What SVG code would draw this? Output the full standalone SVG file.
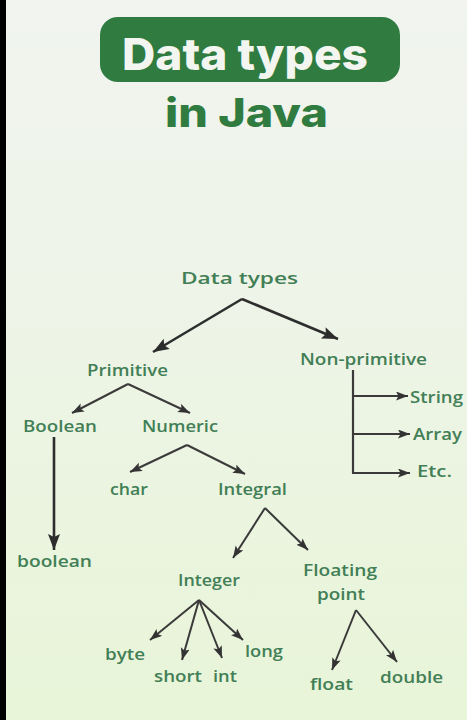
<svg xmlns="http://www.w3.org/2000/svg" width="467" height="720" viewBox="0 0 467 720">
<defs>
<linearGradient id="bg" x1="0" y1="0" x2="0" y2="1">
<stop offset="0" stop-color="#f1f4ef"/>
<stop offset="0.4" stop-color="#eef4e8"/>
<stop offset="1" stop-color="#e8f5d8"/>
</linearGradient>
<marker id="big" markerUnits="userSpaceOnUse" markerWidth="18" markerHeight="14" refX="16" refY="6" orient="auto">
<path d="M0,0 L16,6 L0,12 L3,6 z" fill="#2c2c2c"/>
</marker>
<marker id="sm" markerUnits="userSpaceOnUse" markerWidth="14" markerHeight="10" refX="12" refY="4.5" orient="auto">
<path d="M0,0 L12,4.5 L0,9 L2.5,4.5 z" fill="#333"/>
</marker>
<style>
.t{font-family:"Open Sans","Noto Sans","Liberation Sans",sans-serif;font-weight:600;fill:#427f56;font-size:17px}
.a{stroke:#3a3a3a;stroke-width:2;fill:none;marker-end:url(#sm)}
.b{stroke:#2e2e2e;stroke-width:2.6;fill:none;marker-end:url(#big)}
.l{stroke:#3a3a3a;stroke-width:2.2;fill:none}
</style>
</defs>
<rect width="467" height="720" fill="url(#bg)"/>
<rect x="0" y="0" width="6" height="720" fill="#000"/>

<g id="title">
<rect x="100" y="17" width="300" height="65" rx="18" fill="#2f7b40"/>
<text x="122" y="70" font-family="Inter,'Open Sans',sans-serif" font-weight="800" font-size="44" fill="#f3f6f0" textLength="246" lengthAdjust="spacingAndGlyphs">Data types</text>
<text x="165" y="127" font-family="Inter,'Open Sans',sans-serif" font-weight="800" font-size="40" fill="#2f7b40" textLength="163" lengthAdjust="spacingAndGlyphs">in Java</text>
</g>

<g id="connectors">
<line class="b" x1="242" y1="299" x2="153" y2="352"/>
<line class="b" x1="242" y1="299" x2="338" y2="339"/>
<line class="a" x1="128" y1="384" x2="72" y2="413"/>
<line class="a" x1="128" y1="384" x2="190" y2="413"/>
<line class="b" x1="54" y1="437" x2="54" y2="550"/>
<line class="a" x1="187" y1="445" x2="130" y2="472"/>
<line class="a" x1="187" y1="445" x2="245" y2="474"/>
<path class="l" d="M353,370 V473"/>
<line class="a" x1="353" y1="396" x2="408" y2="396"/>
<line class="a" x1="353" y1="434" x2="410" y2="434"/>
<line class="a" x1="352" y1="473" x2="410" y2="473"/>
<line class="a" x1="265" y1="508" x2="233" y2="558"/>
<line class="a" x1="265" y1="508" x2="308" y2="550"/>
<line class="a" x1="199" y1="600" x2="150" y2="640"/>
<line class="a" x1="199" y1="600" x2="182" y2="660"/>
<line class="a" x1="199" y1="600" x2="222" y2="658"/>
<line class="a" x1="199" y1="600" x2="243" y2="640"/>
<line class="a" x1="356" y1="610" x2="332" y2="670"/>
<line class="a" x1="356" y1="610" x2="397" y2="662"/>
</g>

<g id="n-datatypes"><text class="t" x="181" y="284" font-size="18" textLength="117" lengthAdjust="spacingAndGlyphs">Data types</text></g>
<g id="n-primitive"><text class="t" x="87" y="376" textLength="81" lengthAdjust="spacingAndGlyphs">Primitive</text></g>
<g id="n-nonprimitive"><text class="t" x="300" y="365" textLength="127" lengthAdjust="spacingAndGlyphs">Non-primitive</text></g>
<g id="n-Boolean"><text class="t" x="23" y="432" textLength="74" lengthAdjust="spacingAndGlyphs">Boolean</text></g>
<g id="n-numeric"><text class="t" x="142" y="432" textLength="76" lengthAdjust="spacingAndGlyphs">Numeric</text></g>
<g id="n-char"><text class="t" x="110" y="495" textLength="38" lengthAdjust="spacingAndGlyphs">char</text></g>
<g id="n-integral"><text class="t" x="218" y="495" textLength="69" lengthAdjust="spacingAndGlyphs">Integral</text></g>
<g id="n-string"><text class="t" x="410" y="403" textLength="53" lengthAdjust="spacingAndGlyphs">String</text></g>
<g id="n-array"><text class="t" x="413" y="440" textLength="49" lengthAdjust="spacingAndGlyphs">Array</text></g>
<g id="n-etc"><text class="t" x="417" y="477" textLength="35" lengthAdjust="spacingAndGlyphs">Etc.</text></g>
<g id="n-boolean"><text class="t" x="17" y="567" textLength="75" lengthAdjust="spacingAndGlyphs">boolean</text></g>
<g id="n-integer"><text class="t" x="178" y="586" textLength="62" lengthAdjust="spacingAndGlyphs">Integer</text></g>
<g id="n-floating"><text class="t" x="303" y="576" textLength="74" lengthAdjust="spacingAndGlyphs">Floating</text><text class="t" x="317" y="600" textLength="48" lengthAdjust="spacingAndGlyphs">point</text></g>
<g id="n-byte"><text class="t" x="105" y="660" textLength="40" lengthAdjust="spacingAndGlyphs">byte</text></g>
<g id="n-short"><text class="t" x="154" y="682" textLength="48" lengthAdjust="spacingAndGlyphs">short</text></g>
<g id="n-int"><text class="t" x="213" y="682" textLength="24" lengthAdjust="spacingAndGlyphs">int</text></g>
<g id="n-long"><text class="t" x="245" y="657" textLength="38" lengthAdjust="spacingAndGlyphs">long</text></g>
<g id="n-float"><text class="t" x="310" y="690" textLength="43" lengthAdjust="spacingAndGlyphs">float</text></g>
<g id="n-double"><text class="t" x="380" y="683" textLength="63" lengthAdjust="spacingAndGlyphs">double</text></g>
</svg>
